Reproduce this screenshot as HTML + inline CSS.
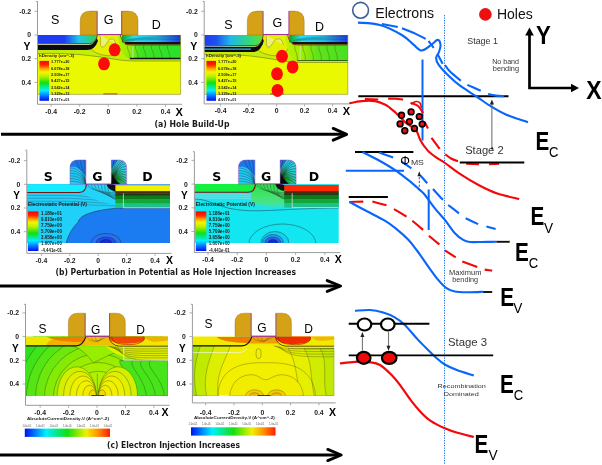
<!DOCTYPE html><html><head><meta charset="utf-8"><style>html,body{margin:0;padding:0;background:#fff;overflow:hidden;}svg{display:block;}</style></head><body>
<svg width="602" height="465" viewBox="0 0 602 465" font-family='"Liberation Sans", Arial, sans-serif'>
<defs>
<linearGradient id="cbv" x1="0" y1="0" x2="0" y2="1">
<stop offset="0" stop-color="#ff0000"/><stop offset="0.1" stop-color="#ff2400"/><stop offset="0.2" stop-color="#ffa800"/><stop offset="0.28" stop-color="#f4f400"/>
<stop offset="0.38" stop-color="#c0f000"/><stop offset="0.55" stop-color="#10e010"/><stop offset="0.74" stop-color="#00f0ff"/><stop offset="0.88" stop-color="#0070ff"/><stop offset="1" stop-color="#0010f0"/>
</linearGradient>
<linearGradient id="cbh" x1="0" y1="0" x2="1" y2="0">
<stop offset="0" stop-color="#0010f0"/><stop offset="0.25" stop-color="#00f0ff"/><stop offset="0.5" stop-color="#10e010"/>
<stop offset="0.72" stop-color="#f0f000"/><stop offset="0.86" stop-color="#ff9000"/><stop offset="1" stop-color="#ff1a00"/>
</linearGradient>
<linearGradient id="a1src" x1="0" y1="0" x2="1" y2="0">
<stop offset="0" stop-color="#1e3cf2"/><stop offset="0.45" stop-color="#1e3cf2"/><stop offset="0.7" stop-color="#20c8e8"/><stop offset="1" stop-color="#30d050"/>
</linearGradient>
<linearGradient id="a2src" x1="0" y1="0" x2="1" y2="0">
<stop offset="0" stop-color="#1e3cf2"/><stop offset="0.2" stop-color="#1e50f0"/><stop offset="0.45" stop-color="#20b8e8"/><stop offset="0.75" stop-color="#30d880"/><stop offset="1" stop-color="#60e030"/>
</linearGradient>
<linearGradient id="a1drn" x1="0" y1="0" x2="1" y2="0">
<stop offset="0" stop-color="#10a020"/><stop offset="0.2" stop-color="#20e0f0"/><stop offset="0.6" stop-color="#20c0f0"/><stop offset="1" stop-color="#1e3cf2"/>
</linearGradient>
</defs>
<rect x="37.5" y="35" width="143.1" height="59.400000000000006" fill="#eaf800"/>
<path d="M37.5,47 L180.6,47 L180.6,61 L133.9,61 C116.9,61 96.9,55 70.2,54 C55.2,53 47.5,53.5 37.5,53.5Z" fill="#c4ee08"/>
<path d="M180.6,61 L133.9,61 C116.9,61 96.9,55 70.2,54 C55.2,53 47.5,53.5 37.5,53.5" fill="none" stroke="#4a5020" stroke-width="0.45"/>
<path d="M94.9,35 L123.9,35 C123.9,45 119.9,51 115.9,55 C107.9,57 96.9,55 90.9,49Z" fill="#e4f000"/>
<path d="M123.9,35 C123.9,45 119.9,51 115.9,55 C107.9,57 96.9,55 90.9,49" fill="none" stroke="#4a5020" stroke-width="0.4"/>
<path d="M99.9,35 C101.9,41 98.9,45 101.9,47 C105.9,48 106.9,40 110.9,39 C115.9,38 113.9,43 116.9,45" fill="#f0f070" stroke="#4a5020" stroke-width="0.35"/>
<rect x="37.5" y="35" width="59.400000000000006" height="8" fill="url(#a1src)"/>
<rect x="37.5" y="43" width="53.400000000000006" height="1.6" fill="#b8b8f0"/>
<path d="M37.5,45 L88.9,45 Q93.9,44.5 96.9,38 L97.9,41 Q94.9,50 86.9,50 L37.5,50 Z" fill="#0a0a14"/>

<path d="M37.5,43.6 L89.9,43.6 Q95.9,43 97.4,35" fill="none" stroke="#8a1020" stroke-width="0.8"/>
<linearGradient id="dg1" x1="0" y1="0" x2="1" y2="0"><stop offset="0" stop-color="#b4f000"/><stop offset="0.18" stop-color="#90ee00"/><stop offset="0.35" stop-color="#40e420"/><stop offset="1" stop-color="#28e030"/></linearGradient>
<path d="M120.9,35 Q122.9,44 130.9,44 L180.6,44 L180.6,59 L128.9,59 C121.9,55 118.9,47 117.9,35Z" fill="url(#dg1)"/>
<rect x="121.9" y="35" width="58.69999999999999" height="7.5" fill="url(#a1drn)"/>
<rect x="124.9" y="42.0" width="55.69999999999999" height="2.4" fill="#101010"/>
<path d="M120.4,35 Q121.9,45 130.9,45 L180.6,45" fill="none" stroke="#9a1a20" stroke-width="0.8"/>
<path d="M129.9,58.5 L180.6,58.5" stroke="#111" stroke-width="1.4"/>
<path d="M127.9,45 C125.9,49 130.9,53 129.9,58" fill="none" stroke="#4a5020" stroke-width="0.4"/>
<path d="M135.9,45 C133.9,49 138.9,53 137.9,58" fill="none" stroke="#4a5020" stroke-width="0.4"/>
<path d="M143.9,45 C141.9,49 146.9,53 145.9,58" fill="none" stroke="#4a5020" stroke-width="0.4"/>
<path d="M151.9,45 C149.9,49 154.9,53 153.9,58" fill="none" stroke="#4a5020" stroke-width="0.4"/>
<path d="M159.9,45 C157.9,49 162.9,53 161.9,58" fill="none" stroke="#4a5020" stroke-width="0.4"/>
<path d="M167.9,45 C165.9,49 170.9,53 169.9,58" fill="none" stroke="#4a5020" stroke-width="0.4"/>
<path d="M132.9,46 L132.9,58" stroke="#e8e8e8" stroke-width="0.6"/>
<path d="M125.9,41 C131.9,37 160.6,37.0 180.6,36.0" fill="none" stroke="#223" stroke-width="0.3"/>
<path d="M128.9,41 C131.9,38 160.6,38.5 180.6,37.8" fill="none" stroke="#223" stroke-width="0.3"/>
<path d="M131.9,41 C131.9,39 160.6,40.0 180.6,39.6" fill="none" stroke="#223" stroke-width="0.3"/>
<path d="M96.9,34.5 L121.9,34.5" stroke="#a020a0" stroke-width="0.8"/>
<text x="39.0" y="56.8" font-size="4.4" font-weight="bold" text-anchor="start" fill="#222" textLength="35" lengthAdjust="spacingAndGlyphs">hDensity (cm^-3)</text>
<rect x="37.5" y="94.4" width="143.1" height="9.399999999999991" fill="#fff"/>
<path d="M37.5,94.4 L180.6,94.4 L180.6,35" fill="none" stroke="#8a9010" stroke-width="0.6"/>
<rect x="39.5" y="60.9" width="9.5" height="39.9" fill="url(#cbv)"/>
<path d="M103.4,93.9 L117.4,93.9" stroke="#b03070" stroke-width="0.9"/>
<text x="51.0" y="63.3" font-size="4.0" font-weight="bold" text-anchor="start" fill="#222" textLength="18.5" lengthAdjust="spacingAndGlyphs">1.777e+20</text>
<text x="51.0" y="69.6" font-size="4.0" font-weight="bold" text-anchor="start" fill="#222" textLength="18.5" lengthAdjust="spacingAndGlyphs">6.678e+18</text>
<text x="51.0" y="75.89999999999999" font-size="4.0" font-weight="bold" text-anchor="start" fill="#222" textLength="18.5" lengthAdjust="spacingAndGlyphs">2.509e+17</text>
<text x="51.0" y="82.19999999999999" font-size="4.0" font-weight="bold" text-anchor="start" fill="#222" textLength="18.5" lengthAdjust="spacingAndGlyphs">9.427e+15</text>
<text x="51.0" y="88.5" font-size="4.0" font-weight="bold" text-anchor="start" fill="#222" textLength="18.5" lengthAdjust="spacingAndGlyphs">3.542e+14</text>
<text x="51.0" y="94.8" font-size="4.0" font-weight="bold" text-anchor="start" fill="#222" textLength="18.5" lengthAdjust="spacingAndGlyphs">1.329e+13</text>
<text x="51.0" y="101.1" font-size="4.0" font-weight="bold" text-anchor="start" fill="#222" textLength="18.5" lengthAdjust="spacingAndGlyphs">4.917e+01</text>
<path d="M80.2,35 L80.2,21.1 Q80.2,11.1 90.2,11.1 L96.9,11.1 L96.9,35 Z" fill="#d5a116" stroke="#8a6a10" stroke-width="0.4"/>
<path d="M121.9,35 L121.9,11.1 L128,11.1 Q138,11.1 138,21.1 L138,35 Z" fill="#d5a116" stroke="#8a6a10" stroke-width="0.4"/>
<path d="M97.2,11.1 L97.2,34.6 L121.60000000000001,34.6 L121.60000000000001,11.1" fill="none" stroke="#9a2a8a" stroke-width="0.8"/>
<text x="51" y="24.2" font-size="12.5" font-weight="normal" text-anchor="start" fill="#000" >S</text>
<text x="103.8" y="24" font-size="12.5" font-weight="normal" text-anchor="start" fill="#000" >G</text>
<text x="151.8" y="29" font-size="12.5" font-weight="normal" text-anchor="start" fill="#000" >D</text>
<ellipse cx="114.6" cy="49.8" rx="5.9" ry="6.5" fill="#ff0a0a"/>
<ellipse cx="104" cy="63.8" rx="5.9" ry="6.5" fill="#ff0a0a"/>
<path d="M37.5,1.5 L37.5,104.3 L182.1,104.3" fill="none" stroke="#9a9a9a" stroke-width="1"/>
<path d="M36.0,1.5 L37.5,1.5" stroke="#9a9a9a" stroke-width="1"/>
<path d="M34.5,11.299999999999997 L37.5,11.299999999999997" stroke="#9a9a9a" stroke-width="0.8"/>
<text x="31.0" y="13.699999999999998" font-size="6.8" font-weight="bold" text-anchor="end" fill="#222" >-0.2</text>
<path d="M34.5,35.0 L37.5,35.0" stroke="#9a9a9a" stroke-width="0.8"/>
<text x="31.0" y="37.4" font-size="6.8" font-weight="bold" text-anchor="end" fill="#222" >0</text>
<path d="M34.5,58.7 L37.5,58.7" stroke="#9a9a9a" stroke-width="0.8"/>
<text x="31.0" y="61.1" font-size="6.8" font-weight="bold" text-anchor="end" fill="#222" >0.2</text>
<path d="M34.5,82.4 L37.5,82.4" stroke="#9a9a9a" stroke-width="0.8"/>
<text x="31.0" y="84.80000000000001" font-size="6.8" font-weight="bold" text-anchor="end" fill="#222" >0.4</text>
<path d="M51.099999999999994,104.3 L51.099999999999994,106.8" stroke="#9a9a9a" stroke-width="0.8"/>
<text x="51.099999999999994" y="113.8" font-size="6.8" font-weight="bold" text-anchor="middle" fill="#222" >-0.4</text>
<path d="M79.69999999999999,104.3 L79.69999999999999,106.8" stroke="#9a9a9a" stroke-width="0.8"/>
<text x="79.69999999999999" y="113.8" font-size="6.8" font-weight="bold" text-anchor="middle" fill="#222" >-0.2</text>
<path d="M108.3,104.3 L108.3,106.8" stroke="#9a9a9a" stroke-width="0.8"/>
<text x="108.3" y="113.8" font-size="6.8" font-weight="bold" text-anchor="middle" fill="#222" >0</text>
<path d="M136.9,104.3 L136.9,106.8" stroke="#9a9a9a" stroke-width="0.8"/>
<text x="136.9" y="113.8" font-size="6.8" font-weight="bold" text-anchor="middle" fill="#222" >0.2</text>
<path d="M165.5,104.3 L165.5,106.8" stroke="#9a9a9a" stroke-width="0.8"/>
<text x="165.5" y="113.8" font-size="6.8" font-weight="bold" text-anchor="middle" fill="#222" >0.4</text>
<text x="175.6" y="115.6" font-size="11" font-weight="bold" text-anchor="start" fill="#000" >X</text>
<text x="23.5" y="50" font-size="10.5" font-weight="bold" text-anchor="start" fill="#000" >Y</text>
<rect x="204.5" y="35" width="143.3" height="59.400000000000006" fill="#eaf800"/>
<path d="M204.5,47 L347.8,47 L347.8,62.5 L301.2,62.5 C284.2,62.5 262.8,56 237.3,55 C222.3,54 214.5,54.5 204.5,54.5Z" fill="#c4ee08"/>
<path d="M347.8,62.5 L301.2,62.5 C284.2,62.5 262.8,56 237.3,55 C222.3,54 214.5,54.5 204.5,54.5" fill="none" stroke="#4a5020" stroke-width="0.45"/>
<path d="M260.8,35 L291.2,35 C291.2,45 287.2,51 283.2,55 C275.2,57 262.8,55 256.8,49Z" fill="#e4f000"/>
<path d="M291.2,35 C291.2,45 287.2,51 283.2,55 C275.2,57 262.8,55 256.8,49" fill="none" stroke="#4a5020" stroke-width="0.4"/>
<path d="M265.8,35 C267.8,41 264.8,45 267.8,47 C271.8,48 272.8,40 276.8,39 C283.2,38 281.2,43 284.2,45" fill="#f0f070" stroke="#4a5020" stroke-width="0.35"/>
<rect x="204.5" y="35" width="58.30000000000001" height="10" fill="url(#a2src)"/>
<rect x="204.5" y="45" width="52.30000000000001" height="1.6" fill="#b8b8f0"/>
<rect x="204.5" y="46.6" width="51.30000000000001" height="2.6" fill="url(#a2src)"/>
<path d="M204.5,47 L254.8,47 Q259.8,46.5 262.8,38 L263.8,41 Q260.8,52 252.8,52 L204.5,52 Z" fill="#0a0a14"/>
<path d="M204.5,49.2 L250.8,49.2" stroke="#28c0e8" stroke-width="1.2"/>
<path d="M204.5,45.6 L255.8,45.6 Q261.8,45 263.3,35" fill="none" stroke="#8a1020" stroke-width="0.8"/>
<linearGradient id="dg2" x1="0" y1="0" x2="1" y2="0"><stop offset="0" stop-color="#c0f000"/><stop offset="0.3" stop-color="#98ee00"/><stop offset="0.5" stop-color="#60e418"/><stop offset="1" stop-color="#48e020"/></linearGradient>
<path d="M288.2,35 Q290.2,44 298.2,44 L347.8,44 L347.8,61 L296.2,61 C289.2,57 286.2,47 285.2,35Z" fill="url(#dg2)"/>
<rect x="289.2" y="35" width="58.60000000000002" height="7.5" fill="url(#a1drn)"/>
<rect x="292.2" y="42.0" width="55.60000000000002" height="2.4" fill="#101010"/>
<path d="M287.7,35 Q289.2,45 298.2,45 L347.8,45" fill="none" stroke="#9a1a20" stroke-width="0.8"/>
<path d="M297.2,60.5 L347.8,60.5" stroke="#111" stroke-width="0.6"/>
<path d="M295.2,45 C293.2,49 298.2,53 297.2,60" fill="none" stroke="#4a5020" stroke-width="0.4"/>
<path d="M303.2,45 C301.2,49 306.2,53 305.2,60" fill="none" stroke="#4a5020" stroke-width="0.4"/>
<path d="M311.2,45 C309.2,49 314.2,53 313.2,60" fill="none" stroke="#4a5020" stroke-width="0.4"/>
<path d="M319.2,45 C317.2,49 322.2,53 321.2,60" fill="none" stroke="#4a5020" stroke-width="0.4"/>
<path d="M327.2,45 C325.2,49 330.2,53 329.2,60" fill="none" stroke="#4a5020" stroke-width="0.4"/>
<path d="M335.2,45 C333.2,49 338.2,53 337.2,60" fill="none" stroke="#4a5020" stroke-width="0.4"/>
<path d="M300.2,46 L300.2,60" stroke="#e8e8e8" stroke-width="0.6"/>
<path d="M293.2,41 C299.2,37 327.8,37.0 347.8,36.0" fill="none" stroke="#223" stroke-width="0.3"/>
<path d="M296.2,41 C299.2,38 327.8,38.5 347.8,37.8" fill="none" stroke="#223" stroke-width="0.3"/>
<path d="M299.2,41 C299.2,39 327.8,40.0 347.8,39.6" fill="none" stroke="#223" stroke-width="0.3"/>
<path d="M262.8,34.5 L289.2,34.5" stroke="#a020a0" stroke-width="0.8"/>
<text x="206.0" y="56.8" font-size="4.4" font-weight="bold" text-anchor="start" fill="#222" textLength="35" lengthAdjust="spacingAndGlyphs">hDensity (cm^-3)</text>
<rect x="204.5" y="94.4" width="143.3" height="9.0" fill="#fff"/>
<path d="M204.5,94.4 L347.8,94.4 L347.8,35" fill="none" stroke="#8a9010" stroke-width="0.6"/>
<rect x="206.5" y="60.9" width="9.5" height="39.9" fill="url(#cbv)"/>
<path d="M270.0,93.9 L284.0,93.9" stroke="#b03070" stroke-width="0.9"/>
<text x="218.0" y="63.3" font-size="4.0" font-weight="bold" text-anchor="start" fill="#222" textLength="18.5" lengthAdjust="spacingAndGlyphs">1.777e+20</text>
<text x="218.0" y="69.6" font-size="4.0" font-weight="bold" text-anchor="start" fill="#222" textLength="18.5" lengthAdjust="spacingAndGlyphs">6.678e+18</text>
<text x="218.0" y="75.89999999999999" font-size="4.0" font-weight="bold" text-anchor="start" fill="#222" textLength="18.5" lengthAdjust="spacingAndGlyphs">2.509e+17</text>
<text x="218.0" y="82.19999999999999" font-size="4.0" font-weight="bold" text-anchor="start" fill="#222" textLength="18.5" lengthAdjust="spacingAndGlyphs">9.427e+15</text>
<text x="218.0" y="88.5" font-size="4.0" font-weight="bold" text-anchor="start" fill="#222" textLength="18.5" lengthAdjust="spacingAndGlyphs">3.542e+14</text>
<text x="218.0" y="94.8" font-size="4.0" font-weight="bold" text-anchor="start" fill="#222" textLength="18.5" lengthAdjust="spacingAndGlyphs">1.329e+13</text>
<text x="218.0" y="101.1" font-size="4.0" font-weight="bold" text-anchor="start" fill="#222" textLength="18.5" lengthAdjust="spacingAndGlyphs">4.917e+01</text>
<path d="M247.3,35 L247.3,21.1 Q247.3,11.1 257.3,11.1 L262.8,11.1 L262.8,35 Z" fill="#d5a116" stroke="#8a6a10" stroke-width="0.4"/>
<path d="M289.2,35 L289.2,11.1 L294.2,11.1 Q304.2,11.1 304.2,21.1 L304.2,35 Z" fill="#d5a116" stroke="#8a6a10" stroke-width="0.4"/>
<path d="M263.1,11.1 L263.1,34.6 L288.9,34.6 L288.9,11.1" fill="none" stroke="#9a2a8a" stroke-width="0.8"/>
<text x="224.3" y="29.2" font-size="12.5" font-weight="normal" text-anchor="start" fill="#000" >S</text>
<text x="272.4" y="26.7" font-size="12.5" font-weight="normal" text-anchor="start" fill="#000" >G</text>
<text x="314.9" y="31.1" font-size="12.5" font-weight="normal" text-anchor="start" fill="#000" >D</text>
<ellipse cx="282" cy="56.3" rx="5.9" ry="6.5" fill="#ff0a0a"/>
<ellipse cx="292.6" cy="66.9" rx="5.9" ry="6.5" fill="#ff0a0a"/>
<ellipse cx="277" cy="73.8" rx="5.9" ry="6.5" fill="#ff0a0a"/>
<ellipse cx="277.5" cy="90.4" rx="5.9" ry="6.5" fill="#ff0a0a"/>
<path d="M204.2,1.5 L204.2,103.9 L349.3,103.9" fill="none" stroke="#9a9a9a" stroke-width="1"/>
<path d="M202.7,1.5 L204.2,1.5" stroke="#9a9a9a" stroke-width="1"/>
<path d="M201.2,11.299999999999997 L204.2,11.299999999999997" stroke="#9a9a9a" stroke-width="0.8"/>
<text x="197.7" y="13.699999999999998" font-size="6.8" font-weight="bold" text-anchor="end" fill="#222" >-0.2</text>
<path d="M201.2,35.0 L204.2,35.0" stroke="#9a9a9a" stroke-width="0.8"/>
<text x="197.7" y="37.4" font-size="6.8" font-weight="bold" text-anchor="end" fill="#222" >0</text>
<path d="M201.2,58.7 L204.2,58.7" stroke="#9a9a9a" stroke-width="0.8"/>
<text x="197.7" y="61.1" font-size="6.8" font-weight="bold" text-anchor="end" fill="#222" >0.2</text>
<path d="M201.2,82.4 L204.2,82.4" stroke="#9a9a9a" stroke-width="0.8"/>
<text x="197.7" y="84.80000000000001" font-size="6.8" font-weight="bold" text-anchor="end" fill="#222" >0.4</text>
<path d="M220.60000000000002,103.9 L220.60000000000002,106.4" stroke="#9a9a9a" stroke-width="0.8"/>
<text x="220.60000000000002" y="113.4" font-size="6.8" font-weight="bold" text-anchor="middle" fill="#222" >-0.4</text>
<path d="M248.60000000000002,103.9 L248.60000000000002,106.4" stroke="#9a9a9a" stroke-width="0.8"/>
<text x="248.60000000000002" y="113.4" font-size="6.8" font-weight="bold" text-anchor="middle" fill="#222" >-0.2</text>
<path d="M276.6,103.9 L276.6,106.4" stroke="#9a9a9a" stroke-width="0.8"/>
<text x="276.6" y="113.4" font-size="6.8" font-weight="bold" text-anchor="middle" fill="#222" >0</text>
<path d="M304.6,103.9 L304.6,106.4" stroke="#9a9a9a" stroke-width="0.8"/>
<text x="304.6" y="113.4" font-size="6.8" font-weight="bold" text-anchor="middle" fill="#222" >0.2</text>
<path d="M332.6,103.9 L332.6,106.4" stroke="#9a9a9a" stroke-width="0.8"/>
<text x="332.6" y="113.4" font-size="6.8" font-weight="bold" text-anchor="middle" fill="#222" >0.4</text>
<text x="342.8" y="115.2" font-size="11" font-weight="bold" text-anchor="start" fill="#000" >X</text>
<text x="190.2" y="50" font-size="10.5" font-weight="bold" text-anchor="start" fill="#000" >Y</text>
<text x="154.5" y="126.9" font-size="8.6" font-weight="bold" text-anchor="start" fill="#1a1a1a" font-family="DejaVu Sans, sans-serif" textLength="75" lengthAdjust="spacingAndGlyphs">(a) Hole Build-Up</text>
<rect x="27" y="184.3" width="143" height="58.69999999999999" fill="#1a7cf0"/>
<path d="M27,192.3 L170,192.3 L170,208.10000000000002 L119.4,208.10000000000002 C106.4,208.8 79.9,212.3 78,222.3 C70,230.3 68,237.3 66,243 L27,243Z" fill="#20d0f8"/>
<path d="M170,208.10000000000002 L119.4,208.10000000000002 C106.4,208.8 79.9,212.3 78,222.3 C70,230.3 68,237.3 66,243" fill="none" stroke="#223" stroke-width="0.45"/>
<path d="M27,195.3 L65,195.3 C85.9,195.3 106.4,200.3 170,202.3" fill="none" stroke="#335" stroke-width="0.3"/>
<path d="M27,198.3 L65,198.3 C85.9,198.3 106.4,202.3 170,203.8" fill="none" stroke="#335" stroke-width="0.3"/>
<path d="M27,201.3 L65,201.3 C85.9,201.3 106.4,204.3 170,205.3" fill="none" stroke="#335" stroke-width="0.3"/>
<path d="M27,204.3 L65,204.3 C85.9,204.3 106.4,206.3 170,206.8" fill="none" stroke="#335" stroke-width="0.3"/>
<path d="M85.9,184.3 L111.4,184.3 C113.4,196.3 119.4,202.3 123.4,206.3 C105.4,204.3 89.9,198.3 82.9,193.3 Z" fill="#22d4f8"/>
<path d="M87.9,184.3 C88.9,192.3 111.4,194.3 170,194.3" fill="none" stroke="#222" stroke-width="0.35"/>
<path d="M91.30000000000001,184.3 C91.9,193.5 111.4,195.9 170,196.3" fill="none" stroke="#222" stroke-width="0.35"/>
<path d="M94.7,184.3 C94.9,194.70000000000002 111.4,197.5 170,198.3" fill="none" stroke="#222" stroke-width="0.35"/>
<path d="M98.10000000000001,184.3 C97.9,195.9 111.4,199.10000000000002 170,200.3" fill="none" stroke="#222" stroke-width="0.35"/>
<path d="M101.5,184.3 C100.9,197.10000000000002 111.4,200.70000000000002 170,202.3" fill="none" stroke="#222" stroke-width="0.35"/>
<path d="M104.9,184.3 C103.9,198.3 111.4,202.3 170,204.3" fill="none" stroke="#222" stroke-width="0.35"/>
<path d="M108.30000000000001,184.3 C106.9,199.5 111.4,203.9 170,206.3" fill="none" stroke="#222" stroke-width="0.35"/>
<path d="M27,184.3 L85.9,184.3 Q85.9,192.3 78.9,192.5 L27,192.5Z" fill="#10eeff"/>
<path d="M27,192.5 L78.9,192.5 Q85.9,192.3 86.4,184.3" fill="none" stroke="#7a1010" stroke-width="1.1"/>
<path d="M113.4,185.3 L170,185.3 L170,191.3 L118.4,191.3 Q113.4,191.3 113.4,185.3Z" fill="#f2f000"/>
<rect x="115.4" y="191.3" width="54.599999999999994" height="2" fill="#4a2a10"/>
<rect x="115.4" y="193.3" width="54.599999999999994" height="2.5" fill="#1a3a10"/>
<rect x="115.4" y="195.8" width="54.599999999999994" height="3.5" fill="#0e7a1c"/>
<rect x="115.4" y="199.3" width="54.599999999999994" height="4" fill="#10a838"/>
<rect x="115.4" y="203.3" width="54.599999999999994" height="4.5" fill="#20c088"/>
<path d="M123.4,193.3 L123.4,207.8 L170,207.8" fill="none" stroke="#e8e8e8" stroke-width="0.7"/>
<path d="M106.4,184.3 Q108.4,190.3 115.4,191.3 L115.4,185.3 L112.4,184.3Z" fill="#111"/>
<clipPath id="cpb1"><rect x="27" y="184.3" width="143" height="58.69999999999999"/></clipPath><g clip-path="url(#cpb1)">
<ellipse cx="106" cy="243" rx="15" ry="9.5" fill="#2a70f0" stroke="#222" stroke-width="0.4"/>
<ellipse cx="106" cy="243" rx="10" ry="6" fill="#1e50e8" stroke="#222" stroke-width="0.4"/>
<ellipse cx="106" cy="243" rx="6" ry="3.5" fill="#1030d0" stroke="#222" stroke-width="0.4"/>
</g>
<rect x="27" y="243" width="143" height="9.900000000000006" fill="#fff"/>
<path d="M85.9,184.0 L111.4,184.0" stroke="#a020a0" stroke-width="0.8"/>
<text x="28" y="206.2" font-size="4.6" font-weight="bold" text-anchor="start" fill="#1a1a1a" textLength="59" lengthAdjust="spacingAndGlyphs">Electrostatic Potential (V)</text>
<rect x="28" y="211.4" width="10.5" height="39.6" fill="url(#cbv)"/>
<text x="41" y="214.6" font-size="4.6" font-weight="bold" text-anchor="start" fill="#1a1a1a" textLength="21" lengthAdjust="spacingAndGlyphs">1.186e+01</text>
<text x="41" y="220.75" font-size="4.6" font-weight="bold" text-anchor="start" fill="#1a1a1a" textLength="21" lengthAdjust="spacingAndGlyphs">9.810e+00</text>
<text x="41" y="226.9" font-size="4.6" font-weight="bold" text-anchor="start" fill="#1a1a1a" textLength="21" lengthAdjust="spacingAndGlyphs">7.759e+00</text>
<text x="41" y="233.05" font-size="4.6" font-weight="bold" text-anchor="start" fill="#1a1a1a" textLength="21" lengthAdjust="spacingAndGlyphs">5.709e+00</text>
<text x="41" y="239.2" font-size="4.6" font-weight="bold" text-anchor="start" fill="#1a1a1a" textLength="21" lengthAdjust="spacingAndGlyphs">3.658e+00</text>
<text x="41" y="245.35" font-size="4.6" font-weight="bold" text-anchor="start" fill="#1a1a1a" textLength="21" lengthAdjust="spacingAndGlyphs">1.607e+00</text>
<text x="41" y="251.5" font-size="4.6" font-weight="bold" text-anchor="start" fill="#1a1a1a" textLength="21" lengthAdjust="spacingAndGlyphs">-4.441e-01</text>
<clipPath id="clip70"><path d="M70,184.3 L70,168 Q70,160 78,160 L85.9,160 L85.9,184.3 Z"/></clipPath>
<g clip-path="url(#clip70)">
<rect x="70" y="160" width="15.900000000000006" height="24.30000000000001" fill="#22ccf5"/>
<path d="M70,160 L85.9,160 L85.9,176.3 C79.9,168 76,166 70,167Z" fill="#1a78ea"/>
<path d="M70,168.0 C76,168.0 81.9,170.0 85.9,184.3" fill="none" stroke="#223" stroke-width="0.35"/>
<path d="M70,170.6 C76,170.6 81.9,172.6 85.9,184.3" fill="none" stroke="#223" stroke-width="0.35"/>
<path d="M70,173.2 C76,173.2 81.9,175.2 85.9,184.3" fill="none" stroke="#223" stroke-width="0.35"/>
<path d="M70,175.8 C76,175.8 81.9,177.8 85.9,184.3" fill="none" stroke="#223" stroke-width="0.35"/>
<path d="M70,178.4 C76,178.4 81.9,180.4 85.9,184.3" fill="none" stroke="#223" stroke-width="0.35"/>
<path d="M70,181.0 C76,181.0 81.9,183.0 85.9,184.3" fill="none" stroke="#223" stroke-width="0.35"/>
<path d="M76,160 C78,168 83.9,172 85.9,184.3" fill="none" stroke="#223" stroke-width="0.35"/>
<path d="M80,160 C82,168 83.9,172 85.9,184.3" fill="none" stroke="#223" stroke-width="0.35"/>
<path d="M84,160 C86,168 83.9,172 85.9,184.3" fill="none" stroke="#223" stroke-width="0.35"/>
</g>
<path d="M70,184.3 L70,168 Q70,160 78,160 L85.9,160 L85.9,184.3 Z" fill="none" stroke="#a040c0" stroke-width="0.5"/>
<clipPath id="clip111"><path d="M111.4,184.3 L111.4,160 L118.7,160 Q126.7,160 126.7,168 L126.7,184.3 Z"/></clipPath>
<g clip-path="url(#clip111)">
<radialGradient id="rg111" cx="111.4" cy="184.3" r="25.515000000000015" gradientUnits="userSpaceOnUse"><stop offset="0" stop-color="#000"/><stop offset="0.12" stop-color="#0a2a0a"/><stop offset="0.3" stop-color="#18a028"/><stop offset="0.55" stop-color="#28c8a0"/><stop offset="0.8" stop-color="#30d4f0"/><stop offset="1" stop-color="#30d4f2"/></radialGradient>
<rect x="111.4" y="160" width="15.299999999999997" height="24.30000000000001" fill="url(#rg111)"/>
<path d="M111.4,160 L117.4,160 L111.4,169Z" fill="#1a70e8"/>
<path d="M111.4,184.3 Q111.4,164.0 111.4,160" fill="none" stroke="#111" stroke-width="0.4"/>
<path d="M111.4,184.3 Q112.31384615384616,164.0 114.44615384615385,160" fill="none" stroke="#111" stroke-width="0.4"/>
<path d="M111.4,184.3 Q113.22769230769231,164.0 117.4923076923077,160" fill="none" stroke="#111" stroke-width="0.4"/>
<path d="M111.4,184.3 Q114.14153846153847,164.0 120.53846153846155,160" fill="none" stroke="#111" stroke-width="0.4"/>
<path d="M111.4,184.3 Q115.05538461538463,164.0 123.58461538461539,160" fill="none" stroke="#111" stroke-width="0.4"/>
<path d="M111.4,184.3 Q115.96923076923078,164.0 126.63076923076925,160" fill="none" stroke="#111" stroke-width="0.4"/>
<path d="M111.4,184.3 Q115.99000000000001,165.19076923076923 126.7,162.97692307692307" fill="none" stroke="#111" stroke-width="0.4"/>
<path d="M111.4,184.3 Q115.99000000000001,166.40923076923076 126.7,166.02307692307693" fill="none" stroke="#111" stroke-width="0.4"/>
<path d="M111.4,184.3 Q115.99000000000001,167.6276923076923 126.7,169.06923076923078" fill="none" stroke="#111" stroke-width="0.4"/>
<path d="M111.4,184.3 Q115.99000000000001,168.84615384615384 126.7,172.1153846153846" fill="none" stroke="#111" stroke-width="0.4"/>
<path d="M111.4,184.3 Q115.99000000000001,170.0646153846154 126.7,175.16153846153847" fill="none" stroke="#111" stroke-width="0.4"/>
<path d="M111.4,184.3 Q115.99000000000001,171.28307692307692 126.7,178.20769230769233" fill="none" stroke="#111" stroke-width="0.4"/>
<path d="M111.4,184.3 Q115.99000000000001,172.50153846153847 126.7,181.25384615384615" fill="none" stroke="#111" stroke-width="0.4"/>
<path d="M111.4,184.3 Q115.99000000000001,173.72 126.7,184.3" fill="none" stroke="#111" stroke-width="0.4"/>
<path d="M111.4,184.3 L120.4,184.3 Q114.4,180.3 111.4,172.3Z" fill="#0a0a0a"/>
</g>
<path d="M111.4,184.3 L111.4,160 L118.7,160 Q126.7,160 126.7,168 L126.7,184.3 Z" fill="none" stroke="#a040c0" stroke-width="0.5"/>
<text x="43.7" y="180.9" font-size="12.5" font-weight="bold" text-anchor="start" fill="#000" font-family="DejaVu Sans, sans-serif">S</text>
<text x="92.3" y="180.5" font-size="12.5" font-weight="bold" text-anchor="start" fill="#000" font-family="DejaVu Sans, sans-serif">G</text>
<text x="142.3" y="180.5" font-size="12.5" font-weight="bold" text-anchor="start" fill="#000" font-family="DejaVu Sans, sans-serif">D</text>
<path d="M26.8,150.2 L26.8,253.4 L171.5,253.4" fill="none" stroke="#9a9a9a" stroke-width="1"/>
<path d="M25.3,150.2 L26.8,150.2" stroke="#9a9a9a" stroke-width="1"/>
<path d="M23.8,160.60000000000002 L26.8,160.60000000000002" stroke="#9a9a9a" stroke-width="0.8"/>
<text x="20.3" y="163.00000000000003" font-size="6.8" font-weight="bold" text-anchor="end" fill="#222" >-0.2</text>
<path d="M23.8,184.3 L26.8,184.3" stroke="#9a9a9a" stroke-width="0.8"/>
<text x="20.3" y="186.70000000000002" font-size="6.8" font-weight="bold" text-anchor="end" fill="#222" >0</text>
<path d="M23.8,208.0 L26.8,208.0" stroke="#9a9a9a" stroke-width="0.8"/>
<text x="20.3" y="210.4" font-size="6.8" font-weight="bold" text-anchor="end" fill="#222" >0.2</text>
<path d="M23.8,231.70000000000002 L26.8,231.70000000000002" stroke="#9a9a9a" stroke-width="0.8"/>
<text x="20.3" y="234.10000000000002" font-size="6.8" font-weight="bold" text-anchor="end" fill="#222" >0.4</text>
<path d="M41.4,253.4 L41.4,255.9" stroke="#9a9a9a" stroke-width="0.8"/>
<text x="41.4" y="262.9" font-size="6.8" font-weight="bold" text-anchor="middle" fill="#222" >-0.4</text>
<path d="M69.8,253.4 L69.8,255.9" stroke="#9a9a9a" stroke-width="0.8"/>
<text x="69.8" y="262.9" font-size="6.8" font-weight="bold" text-anchor="middle" fill="#222" >-0.2</text>
<path d="M98.2,253.4 L98.2,255.9" stroke="#9a9a9a" stroke-width="0.8"/>
<text x="98.2" y="262.9" font-size="6.8" font-weight="bold" text-anchor="middle" fill="#222" >0</text>
<path d="M126.60000000000001,253.4 L126.60000000000001,255.9" stroke="#9a9a9a" stroke-width="0.8"/>
<text x="126.60000000000001" y="262.9" font-size="6.8" font-weight="bold" text-anchor="middle" fill="#222" >0.2</text>
<path d="M155.0,253.4 L155.0,255.9" stroke="#9a9a9a" stroke-width="0.8"/>
<text x="155.0" y="262.9" font-size="6.8" font-weight="bold" text-anchor="middle" fill="#222" >0.4</text>
<text x="166" y="263.9" font-size="10.5" font-weight="bold" text-anchor="start" fill="#000" >X</text>
<text x="13.3" y="199" font-size="10" font-weight="bold" text-anchor="start" fill="#000" >Y</text>
<rect x="194.8" y="184.1" width="143.89999999999998" height="58.900000000000006" fill="#12e6f0"/>
<path d="M194.8,192.1 L338.7,192.1 L338.7,208.1 C280.2,208.1 254.9,214.1 228.4,208.1 C208.4,202.1 204.8,199.1 194.8,199.1Z" fill="#18e6ec"/>
<path d="M338.7,208.1 C280.2,208.1 254.9,214.1 228.4,208.1 C208.4,202.1 204.8,199.1 194.8,199.1" fill="none" stroke="#223" stroke-width="0.45"/>
<path d="M194.8,194.1 L238.4,194.1 C254.9,194.1 275.2,200.1 338.7,202.1" fill="none" stroke="#ddd" stroke-width="0.45"/>
<path d="M194.8,196.1 L238.4,196.1 C254.9,196.1 275.2,202.1 338.7,203.6" fill="none" stroke="#ddd" stroke-width="0.45"/>
<path d="M194.8,198.1 L238.4,198.1 C254.9,198.1 275.2,204.1 338.7,205.1" fill="none" stroke="#ddd" stroke-width="0.45"/>
<linearGradient id="fanb2" x1="0" y1="0" x2="0" y2="1"><stop offset="0" stop-color="#28e048"/><stop offset="0.6" stop-color="#48e470"/><stop offset="1" stop-color="#40e0b0"/></linearGradient>
<path d="M253.9,184.1 L281.2,184.1 C284.2,192.1 294.2,198.1 294.2,203.1 C292.2,208.1 256.9,208.1 252.9,202.1 C248.9,198.1 251.9,192.1 253.9,184.1 Z" fill="url(#fanb2)"/>
<path d="M256.9,184.1 C257.9,192.1 280.2,194.1 338.7,194.1" fill="none" stroke="#222" stroke-width="0.35"/>
<path d="M260.29999999999995,184.1 C260.9,193.29999999999998 280.2,195.7 338.7,196.1" fill="none" stroke="#222" stroke-width="0.35"/>
<path d="M263.7,184.1 C263.9,194.5 280.2,197.29999999999998 338.7,198.1" fill="none" stroke="#222" stroke-width="0.35"/>
<path d="M267.09999999999997,184.1 C266.9,195.7 280.2,198.9 338.7,200.1" fill="none" stroke="#222" stroke-width="0.35"/>
<path d="M270.5,184.1 C269.9,196.9 280.2,200.5 338.7,202.1" fill="none" stroke="#222" stroke-width="0.35"/>
<path d="M273.9,184.1 C272.9,198.1 280.2,202.1 338.7,204.1" fill="none" stroke="#222" stroke-width="0.35"/>
<path d="M277.29999999999995,184.1 C275.9,199.29999999999998 280.2,203.7 338.7,206.1" fill="none" stroke="#222" stroke-width="0.35"/>
<path d="M194.8,184.1 L254.9,184.1 Q254.9,192.1 247.9,192.29999999999998 L194.8,192.29999999999998Z" fill="#14f040"/>
<path d="M194.8,192.29999999999998 L247.9,192.29999999999998 Q254.9,192.1 255.4,184.1" fill="none" stroke="#7a1010" stroke-width="1.1"/>
<path d="M282.2,185.1 L338.7,185.1 L338.7,191.1 L287.2,191.1 Q282.2,191.1 282.2,185.1Z" fill="#ff2a00"/>
<rect x="284.2" y="191.1" width="54.5" height="2" fill="#4a2a10"/>
<rect x="284.2" y="193.1" width="54.5" height="2.5" fill="#1a3a10"/>
<rect x="284.2" y="195.6" width="54.5" height="3.5" fill="#0e7a1c"/>
<rect x="284.2" y="199.1" width="54.5" height="4" fill="#10a838"/>
<rect x="284.2" y="203.1" width="54.5" height="4.5" fill="#20c088"/>
<path d="M292.2,193.1 L292.2,207.6 L338.7,207.6" fill="none" stroke="#e8e8e8" stroke-width="0.7"/>
<path d="M275.2,184.1 Q277.2,190.1 284.2,191.1 L284.2,185.1 L281.2,184.1Z" fill="#111"/>
<clipPath id="cpb2"><rect x="194.8" y="184.1" width="143.89999999999998" height="58.900000000000006"/></clipPath><g clip-path="url(#cpb2)">
<ellipse cx="282.4" cy="244" rx="33.5" ry="20" fill="none" stroke="#222" stroke-width="0.4"/>
<ellipse cx="274.9" cy="243" rx="14" ry="11.5" fill="#14d0f0" stroke="#222" stroke-width="0.4"/>
<ellipse cx="272.9" cy="243" rx="10.5" ry="8.5" fill="#1ea0f0" stroke="#222" stroke-width="0.4"/>
<ellipse cx="272.9" cy="243" rx="8" ry="6" fill="#2a64f0" stroke="#222" stroke-width="0.4"/>
<ellipse cx="272.9" cy="243" rx="5" ry="3.5" fill="#1030d0" stroke="#222" stroke-width="0.4"/>
</g>
<rect x="194.8" y="243" width="143.89999999999998" height="9.099999999999994" fill="#fff"/>
<path d="M254.9,183.79999999999998 L280.2,183.79999999999998" stroke="#a020a0" stroke-width="0.8"/>
<text x="195.8" y="206.2" font-size="4.6" font-weight="bold" text-anchor="start" fill="#1a1a1a" textLength="59" lengthAdjust="spacingAndGlyphs">Electrostatic Potential (V)</text>
<rect x="195.8" y="211.4" width="10.5" height="39.6" fill="url(#cbv)"/>
<text x="208.8" y="214.6" font-size="4.6" font-weight="bold" text-anchor="start" fill="#1a1a1a" textLength="21" lengthAdjust="spacingAndGlyphs">1.186e+01</text>
<text x="208.8" y="220.75" font-size="4.6" font-weight="bold" text-anchor="start" fill="#1a1a1a" textLength="21" lengthAdjust="spacingAndGlyphs">9.810e+00</text>
<text x="208.8" y="226.9" font-size="4.6" font-weight="bold" text-anchor="start" fill="#1a1a1a" textLength="21" lengthAdjust="spacingAndGlyphs">7.759e+00</text>
<text x="208.8" y="233.05" font-size="4.6" font-weight="bold" text-anchor="start" fill="#1a1a1a" textLength="21" lengthAdjust="spacingAndGlyphs">5.709e+00</text>
<text x="208.8" y="239.2" font-size="4.6" font-weight="bold" text-anchor="start" fill="#1a1a1a" textLength="21" lengthAdjust="spacingAndGlyphs">3.658e+00</text>
<text x="208.8" y="245.35" font-size="4.6" font-weight="bold" text-anchor="start" fill="#1a1a1a" textLength="21" lengthAdjust="spacingAndGlyphs">1.607e+00</text>
<text x="208.8" y="251.5" font-size="4.6" font-weight="bold" text-anchor="start" fill="#1a1a1a" textLength="21" lengthAdjust="spacingAndGlyphs">-4.441e-01</text>
<clipPath id="clip238"><path d="M238.4,184.1 L238.4,168 Q238.4,160 246.4,160 L254.9,160 L254.9,184.1 Z"/></clipPath>
<g clip-path="url(#clip238)">
<rect x="238.4" y="160" width="16.5" height="24.099999999999994" fill="#22ccf5"/>
<path d="M238.4,160 L254.9,160 L254.9,176.1 C248.9,168 244.4,166 238.4,167Z" fill="#1a78ea"/>
<path d="M238.4,168.0 C244.4,168.0 250.9,170.0 254.9,184.1" fill="none" stroke="#223" stroke-width="0.35"/>
<path d="M238.4,170.6 C244.4,170.6 250.9,172.6 254.9,184.1" fill="none" stroke="#223" stroke-width="0.35"/>
<path d="M238.4,173.2 C244.4,173.2 250.9,175.2 254.9,184.1" fill="none" stroke="#223" stroke-width="0.35"/>
<path d="M238.4,175.8 C244.4,175.8 250.9,177.8 254.9,184.1" fill="none" stroke="#223" stroke-width="0.35"/>
<path d="M238.4,178.4 C244.4,178.4 250.9,180.4 254.9,184.1" fill="none" stroke="#223" stroke-width="0.35"/>
<path d="M238.4,181.0 C244.4,181.0 250.9,183.0 254.9,184.1" fill="none" stroke="#223" stroke-width="0.35"/>
<path d="M244.4,160 C246.4,168 252.9,172 254.9,184.1" fill="none" stroke="#223" stroke-width="0.35"/>
<path d="M248.4,160 C250.4,168 252.9,172 254.9,184.1" fill="none" stroke="#223" stroke-width="0.35"/>
<path d="M252.4,160 C254.4,168 252.9,172 254.9,184.1" fill="none" stroke="#223" stroke-width="0.35"/>
</g>
<path d="M238.4,184.1 L238.4,168 Q238.4,160 246.4,160 L254.9,160 L254.9,184.1 Z" fill="none" stroke="#a040c0" stroke-width="0.5"/>
<clipPath id="clip280"><path d="M280.2,184.1 L280.2,160 L288.1,160 Q296.1,160 296.1,168 L296.1,184.1 Z"/></clipPath>
<g clip-path="url(#clip280)">
<radialGradient id="rg280" cx="280.2" cy="184.1" r="25.304999999999996" gradientUnits="userSpaceOnUse"><stop offset="0" stop-color="#000"/><stop offset="0.12" stop-color="#0a2a0a"/><stop offset="0.3" stop-color="#18a028"/><stop offset="0.55" stop-color="#28c8a0"/><stop offset="0.8" stop-color="#30d4f0"/><stop offset="1" stop-color="#30d4f2"/></radialGradient>
<rect x="280.2" y="160" width="15.900000000000034" height="24.099999999999994" fill="url(#rg280)"/>
<path d="M280.2,160 L286.2,160 L280.2,169Z" fill="#1a70e8"/>
<path d="M280.2,184.1 Q280.2,164.0 280.2,160" fill="none" stroke="#111" stroke-width="0.4"/>
<path d="M280.2,184.1 Q281.1230769230769,164.0 283.2769230769231,160" fill="none" stroke="#111" stroke-width="0.4"/>
<path d="M280.2,184.1 Q282.04615384615386,164.0 286.3538461538461,160" fill="none" stroke="#111" stroke-width="0.4"/>
<path d="M280.2,184.1 Q282.96923076923076,164.0 289.4307692307692,160" fill="none" stroke="#111" stroke-width="0.4"/>
<path d="M280.2,184.1 Q283.89230769230767,164.0 292.5076923076923,160" fill="none" stroke="#111" stroke-width="0.4"/>
<path d="M280.2,184.1 Q284.81538461538463,164.0 295.5846153846154,160" fill="none" stroke="#111" stroke-width="0.4"/>
<path d="M280.2,184.1 Q284.97,165.02461538461537 296.1,162.56153846153845" fill="none" stroke="#111" stroke-width="0.4"/>
<path d="M280.2,184.1 Q284.97,166.2553846153846 296.1,165.6384615384615" fill="none" stroke="#111" stroke-width="0.4"/>
<path d="M280.2,184.1 Q284.97,167.48615384615385 296.1,168.7153846153846" fill="none" stroke="#111" stroke-width="0.4"/>
<path d="M280.2,184.1 Q284.97,168.71692307692308 296.1,171.79230769230767" fill="none" stroke="#111" stroke-width="0.4"/>
<path d="M280.2,184.1 Q284.97,169.9476923076923 296.1,174.86923076923077" fill="none" stroke="#111" stroke-width="0.4"/>
<path d="M280.2,184.1 Q284.97,171.17846153846153 296.1,177.94615384615383" fill="none" stroke="#111" stroke-width="0.4"/>
<path d="M280.2,184.1 Q284.97,172.40923076923076 296.1,181.02307692307693" fill="none" stroke="#111" stroke-width="0.4"/>
<path d="M280.2,184.1 Q284.97,173.64 296.1,184.1" fill="none" stroke="#111" stroke-width="0.4"/>
<path d="M280.2,184.1 L289.2,184.1 Q283.2,180.1 280.2,172.1Z" fill="#0a0a0a"/>
</g>
<path d="M280.2,184.1 L280.2,160 L288.1,160 Q296.1,160 296.1,168 L296.1,184.1 Z" fill="none" stroke="#a040c0" stroke-width="0.5"/>
<text x="212.3" y="181" font-size="12.5" font-weight="bold" text-anchor="start" fill="#000" font-family="DejaVu Sans, sans-serif">S</text>
<text x="260.9" y="180.5" font-size="12.5" font-weight="bold" text-anchor="start" fill="#000" font-family="DejaVu Sans, sans-serif">G</text>
<text x="308.7" y="180.5" font-size="12.5" font-weight="bold" text-anchor="start" fill="#000" font-family="DejaVu Sans, sans-serif">D</text>
<path d="M194.4,151.7 L194.4,252.6 L340.2,252.6" fill="none" stroke="#9a9a9a" stroke-width="1"/>
<path d="M192.9,151.7 L194.4,151.7" stroke="#9a9a9a" stroke-width="1"/>
<path d="M191.4,160.39999999999998 L194.4,160.39999999999998" stroke="#9a9a9a" stroke-width="0.8"/>
<text x="187.9" y="162.79999999999998" font-size="6.8" font-weight="bold" text-anchor="end" fill="#222" >-0.2</text>
<path d="M191.4,184.1 L194.4,184.1" stroke="#9a9a9a" stroke-width="0.8"/>
<text x="187.9" y="186.5" font-size="6.8" font-weight="bold" text-anchor="end" fill="#222" >0</text>
<path d="M191.4,207.8 L194.4,207.8" stroke="#9a9a9a" stroke-width="0.8"/>
<text x="187.9" y="210.20000000000002" font-size="6.8" font-weight="bold" text-anchor="end" fill="#222" >0.2</text>
<path d="M191.4,231.5 L194.4,231.5" stroke="#9a9a9a" stroke-width="0.8"/>
<text x="187.9" y="233.9" font-size="6.8" font-weight="bold" text-anchor="end" fill="#222" >0.4</text>
<path d="M207.99999999999997,252.6 L207.99999999999997,255.1" stroke="#9a9a9a" stroke-width="0.8"/>
<text x="207.99999999999997" y="262.1" font-size="6.8" font-weight="bold" text-anchor="middle" fill="#222" >-0.4</text>
<path d="M237.2,252.6 L237.2,255.1" stroke="#9a9a9a" stroke-width="0.8"/>
<text x="237.2" y="262.1" font-size="6.8" font-weight="bold" text-anchor="middle" fill="#222" >-0.2</text>
<path d="M266.4,252.6 L266.4,255.1" stroke="#9a9a9a" stroke-width="0.8"/>
<text x="266.4" y="262.1" font-size="6.8" font-weight="bold" text-anchor="middle" fill="#222" >0</text>
<path d="M295.59999999999997,252.6 L295.59999999999997,255.1" stroke="#9a9a9a" stroke-width="0.8"/>
<text x="295.59999999999997" y="262.1" font-size="6.8" font-weight="bold" text-anchor="middle" fill="#222" >0.2</text>
<path d="M324.79999999999995,252.6 L324.79999999999995,255.1" stroke="#9a9a9a" stroke-width="0.8"/>
<text x="324.79999999999995" y="262.1" font-size="6.8" font-weight="bold" text-anchor="middle" fill="#222" >0.4</text>
<text x="334.7" y="263.1" font-size="10.5" font-weight="bold" text-anchor="start" fill="#000" >X</text>
<text x="180.9" y="199" font-size="10" font-weight="bold" text-anchor="start" fill="#000" >Y</text>
<text x="55.5" y="274.9" font-size="8.2" font-weight="bold" text-anchor="start" fill="#1a1a1a" font-family="DejaVu Sans, sans-serif" textLength="240.5" lengthAdjust="spacingAndGlyphs">(b) Perturbation in Potential as Hole Injection Increases</text>
<clipPath id="clipC1"><rect x="25.7" y="336.6" width="142.3" height="59.19999999999999"/></clipPath>
<g clip-path="url(#clipC1)">
<rect x="25.7" y="336.6" width="142.3" height="59.19999999999999" fill="#2ee01c"/>
<ellipse cx="98.35" cy="397.8" rx="90.0" ry="88.2" fill="#2ee01c" stroke="#2a3a10" stroke-width="0.35"/>
<ellipse cx="98.35" cy="397.8" rx="81.0" ry="79.38" fill="#3ee319" stroke="#2a3a10" stroke-width="0.35"/>
<ellipse cx="98.35" cy="397.8" rx="72.0" ry="70.56" fill="#53e514" stroke="#2a3a10" stroke-width="0.35"/>
<ellipse cx="98.35" cy="397.8" rx="63.0" ry="61.74" fill="#6ce80d" stroke="#2a3a10" stroke-width="0.35"/>
<ellipse cx="98.35" cy="397.8" rx="54.0" ry="52.92" fill="#83eb06" stroke="#2a3a10" stroke-width="0.35"/>
<ellipse cx="98.35" cy="397.8" rx="45.0" ry="44.1" fill="#99ee00" stroke="#2a3a10" stroke-width="0.35"/>
<ellipse cx="98.35" cy="397.8" rx="36.0" ry="35.28" fill="#a5ef00" stroke="#2a3a10" stroke-width="0.35"/>
<ellipse cx="98.35" cy="397.8" rx="27.0" ry="26.46" fill="#b0f000" stroke="#2a3a10" stroke-width="0.35"/>
<path d="M71.35,345.6 C83.35,348.6 89.35,358.6 93.35,362.6 C103.35,358.6 111.35,352.6 123.35,350.6 L123.35,345.6Z" fill="#98ee00" stroke="#2a3a10" stroke-width="0.35"/>
<path d="M119.8,360.6 L168,360.6 L168,395.8 L137.35,395.8 C135.35,376.6 117.8,366.6 119.8,360.6Z" fill="#48e41a" stroke="#2a3a10" stroke-width="0.35"/>
<path d="M146.35,395.8 C144.35,376.6 127.8,366.6 132.8,360.6" fill="none" stroke="#2a3a10" stroke-width="0.35"/>
<path d="M155.35,395.8 C153.35,376.6 135.8,366.6 141.8,360.6" fill="none" stroke="#2a3a10" stroke-width="0.35"/>
<path d="M164.35,395.8 C162.35,376.6 143.8,366.6 150.8,360.6" fill="none" stroke="#2a3a10" stroke-width="0.35"/>
<path d="M105.8,345.6 C113.8,356.6 129.8,360.6 168,360.6 L168,345.6Z" fill="#e0f000"/>
<path d="M106.8,345.6 C113.8,348.6 131.8,349.6 168,348.6" fill="none" stroke="#2a3a10" stroke-width="0.35"/>
<path d="M108.8,345.6 C115.8,350.8 131.8,351.8 168,350.90000000000003" fill="none" stroke="#2a3a10" stroke-width="0.35"/>
<path d="M110.8,345.6 C117.8,353.0 131.8,354.0 168,353.20000000000005" fill="none" stroke="#2a3a10" stroke-width="0.35"/>
<path d="M112.8,345.6 C119.8,355.20000000000005 131.8,356.20000000000005 168,355.5" fill="none" stroke="#2a3a10" stroke-width="0.35"/>
<path d="M114.8,345.6 C121.8,357.40000000000003 131.8,358.40000000000003 168,357.8" fill="none" stroke="#2a3a10" stroke-width="0.35"/>
<path d="M116.8,345.6 C123.8,359.6 131.8,360.6 168,360.1" fill="none" stroke="#2a3a10" stroke-width="0.35"/>
<path d="M123.8,346.1 L123.8,360.1 L168,360.1" fill="none" stroke="#f4f4f4" stroke-width="0.8"/>
<ellipse cx="76.64999999999999" cy="395.8" rx="19.5" ry="29.0" fill="#d0f000" stroke="#2a3a10" stroke-width="0.35"/>
<ellipse cx="79.85" cy="395.8" rx="16.3" ry="24.4" fill="#e2f000" stroke="#2a3a10" stroke-width="0.35"/>
<ellipse cx="83.05" cy="395.8" rx="13.1" ry="19.8" fill="#eef000" stroke="#2a3a10" stroke-width="0.35"/>
<ellipse cx="86.25" cy="395.8" rx="9.899999999999999" ry="15.200000000000001" fill="#f2f000" stroke="#2a3a10" stroke-width="0.35"/>
<ellipse cx="89.44999999999999" cy="395.8" rx="6.699999999999999" ry="10.600000000000001" fill="#f2ea00" stroke="#2a3a10" stroke-width="0.35"/>
<ellipse cx="92.64999999999999" cy="395.8" rx="3.5" ry="6.0" fill="#f2dc00" stroke="#2a3a10" stroke-width="0.35"/>
<ellipse cx="118.05" cy="395.8" rx="19.5" ry="29.0" fill="#d0f000" stroke="#2a3a10" stroke-width="0.35"/>
<ellipse cx="114.85" cy="395.8" rx="16.3" ry="24.4" fill="#e2f000" stroke="#2a3a10" stroke-width="0.35"/>
<ellipse cx="111.64999999999999" cy="395.8" rx="13.1" ry="19.8" fill="#eef000" stroke="#2a3a10" stroke-width="0.35"/>
<ellipse cx="108.44999999999999" cy="395.8" rx="9.899999999999999" ry="15.200000000000001" fill="#f2f000" stroke="#2a3a10" stroke-width="0.35"/>
<ellipse cx="105.25" cy="395.8" rx="6.699999999999999" ry="10.600000000000001" fill="#f2ea00" stroke="#2a3a10" stroke-width="0.35"/>
<ellipse cx="102.05" cy="395.8" rx="3.5" ry="6.0" fill="#f2dc00" stroke="#2a3a10" stroke-width="0.35"/>
<path d="M97.35,395.8 L97.35,373.8" stroke="#2a3a10" stroke-width="0.35"/>
</g>
<path d="M91.35,395.5 L104.35,395.5" stroke="#5a2a4a" stroke-width="1"/>
<rect x="25.7" y="336.6" width="142.3" height="9.3" fill="#f0e600"/>
<path d="M45.7,345.90000000000003 C47.7,339.6 55.7,338.1 65.7,338.1 L90.9,338.1 L88.9,345.90000000000003Z" fill="#f0b400"/>
<path d="M47.7,336.90000000000003 L92.9,336.90000000000003 L92.9,342.1 C79.9,342.1 55.7,342.1 47.7,336.90000000000003Z" fill="#f07c00"/>
<path d="M84.9,336.6 L109.8,336.6 L113.8,345.6 L82.9,345.6Z" fill="#f0c000"/>
<path d="M108.8,336.6 L143.8,336.6 C147.8,339.6 141.8,343.6 129.8,343.6 C115.8,344.6 109.8,341.6 108.8,336.6Z" fill="#f04800"/>
<path d="M143.8,336.6 L168,336.6 L168,340.6 C153,342.6 149.8,342.6 143.8,336.6Z" fill="#f0b000"/>
<path d="M86.9,336.6 C88.9,342.6 97.35,342.6 107.8,336.6" fill="none" stroke="#553" stroke-width="0.35"/>
<path d="M90.9,336.6 C92.9,342.6 97.35,343.6 104.8,336.6" fill="none" stroke="#553" stroke-width="0.35"/>
<path d="M94.9,336.6 C96.9,342.6 97.35,344.6 101.8,336.6" fill="none" stroke="#553" stroke-width="0.35"/>
<path d="M25.7,345.90000000000003 L75.9,345.90000000000003 Q82.9,345.6 85.9,336.6" fill="none" stroke="#111" stroke-width="1.1"/>
<path d="M108.8,336.6 Q110.8,345.6 119.8,346.20000000000005 L168,346.20000000000005" fill="none" stroke="#3a2a10" stroke-width="0.8"/>
<path d="M111.8,336.6 C111.8,342.6 117.8,344.6 129.8,344.6 C139.8,344.6 145.8,340.6 143.8,336.6" fill="none" stroke="#a01010" stroke-width="0.6"/>
<path d="M84.9,336.3 L109.8,336.3" stroke="#a020a0" stroke-width="0.8"/>
<path d="M68.4,336.6 L68.4,322.7 Q68.4,313.2 77.9,313.2 L84.9,313.2 L84.9,336.6 Z" fill="#d5a116" stroke="#8a6a10" stroke-width="0.4"/>
<path d="M109.8,336.6 L109.8,313.2 L115.8,313.2 Q125.3,313.2 125.3,322.7 L125.3,336.6 Z" fill="#d5a116" stroke="#8a6a10" stroke-width="0.4"/>
<path d="M85.2,313.2 L85.2,336.20000000000005 L109.5,336.20000000000005 L109.5,313.2" fill="none" stroke="#9a2a8a" stroke-width="0.8"/>
<text x="38.6" y="333" font-size="12" font-weight="normal" text-anchor="start" fill="#000" >S</text>
<text x="90.9" y="333.5" font-size="12" font-weight="normal" text-anchor="start" fill="#000" >G</text>
<text x="136.3" y="333.5" font-size="12" font-weight="normal" text-anchor="start" fill="#000" >D</text>
<path d="M25.5,304.3 L25.5,405.3 L169.5,405.3" fill="none" stroke="#9a9a9a" stroke-width="1"/>
<path d="M24.0,304.3 L25.5,304.3" stroke="#9a9a9a" stroke-width="1"/>
<path d="M22.5,312.90000000000003 L25.5,312.90000000000003" stroke="#9a9a9a" stroke-width="0.8"/>
<text x="19.0" y="315.3" font-size="6.8" font-weight="bold" text-anchor="end" fill="#222" >-0.2</text>
<path d="M22.5,336.6 L25.5,336.6" stroke="#9a9a9a" stroke-width="0.8"/>
<text x="19.0" y="339.0" font-size="6.8" font-weight="bold" text-anchor="end" fill="#222" >0</text>
<path d="M22.5,360.3 L25.5,360.3" stroke="#9a9a9a" stroke-width="0.8"/>
<text x="19.0" y="362.7" font-size="6.8" font-weight="bold" text-anchor="end" fill="#222" >0.2</text>
<path d="M22.5,384.0 L25.5,384.0" stroke="#9a9a9a" stroke-width="0.8"/>
<text x="19.0" y="386.4" font-size="6.8" font-weight="bold" text-anchor="end" fill="#222" >0.4</text>
<path d="M40.199999999999996,405.3 L40.199999999999996,407.8" stroke="#9a9a9a" stroke-width="0.8"/>
<text x="40.199999999999996" y="414.8" font-size="6.8" font-weight="bold" text-anchor="middle" fill="#222" >-0.4</text>
<path d="M68.6,405.3 L68.6,407.8" stroke="#9a9a9a" stroke-width="0.8"/>
<text x="68.6" y="414.8" font-size="6.8" font-weight="bold" text-anchor="middle" fill="#222" >-0.2</text>
<path d="M97,405.3 L97,407.8" stroke="#9a9a9a" stroke-width="0.8"/>
<text x="97" y="414.8" font-size="6.8" font-weight="bold" text-anchor="middle" fill="#222" >0</text>
<path d="M125.4,405.3 L125.4,407.8" stroke="#9a9a9a" stroke-width="0.8"/>
<text x="125.4" y="414.8" font-size="6.8" font-weight="bold" text-anchor="middle" fill="#222" >0.2</text>
<path d="M153.8,405.3 L153.8,407.8" stroke="#9a9a9a" stroke-width="0.8"/>
<text x="153.8" y="414.8" font-size="6.8" font-weight="bold" text-anchor="middle" fill="#222" >0.4</text>
<text x="161.5" y="415.8" font-size="10.5" font-weight="bold" text-anchor="start" fill="#000" >X</text>
<text x="12.0" y="352" font-size="10" font-weight="bold" text-anchor="start" fill="#000" >Y</text>
<clipPath id="clipC2"><rect x="192.6" y="336.6" width="141.6" height="59.19999999999999"/></clipPath>
<g clip-path="url(#clipC2)">
<rect x="192.6" y="336.6" width="141.6" height="59.19999999999999" fill="#f2f000"/>
<path d="M192.6,345.6 L230.6,345.6 C224.6,361.6 214.6,376.6 218.6,395.8 L192.6,395.8Z" fill="#dcef00" stroke="#4a4a10" stroke-width="0.35"/>
<path d="M192.6,345.6 L214.6,345.6 C208.6,361.6 202.6,376.6 206.6,395.8 L192.6,395.8Z" fill="#c0ea00" stroke="#4a4a10" stroke-width="0.35"/>
<path d="M192.6,345.6 L200.6,345.6 C194.6,361.6 192.6,376.6 196.6,395.8 L192.6,395.8Z" fill="#a4e200" stroke="#4a4a10" stroke-width="0.35"/>
<path d="M334.2,348.6 L288.2,348.6 C296.2,361.6 296.2,376.6 300.2,395.8 L334.2,395.8Z" fill="#e4f000" stroke="#4a4a10" stroke-width="0.35"/>
<path d="M334.2,348.6 L304.2,348.6 C312.2,361.6 310.2,376.6 314.2,395.8 L334.2,395.8Z" fill="#d0ec00" stroke="#4a4a10" stroke-width="0.35"/>
<path d="M334.2,348.6 L320.2,348.6 C328.2,361.6 322.2,376.6 326.2,395.8 L334.2,395.8Z" fill="#c0e800" stroke="#4a4a10" stroke-width="0.35"/>
<path d="M229.55,395.8 C231.55,381.8 239.55,375.8 249.55,374.8 C257.55,373.8 261.55,379.8 265.55,379.8 C269.55,379.8 275.55,373.8 283.55,374.8 C293.55,375.8 301.55,381.8 303.55,395.8Z" fill="#f2ec00" stroke="#4a4a10" stroke-width="0.35"/>
<path d="M217.55,395.8 C219.55,369.8 237.55,361.8 265.55,362.8 C293.55,361.8 313.55,369.8 315.55,395.8" fill="none" stroke="#4a4a10" stroke-width="0.35"/>
<ellipse cx="258.55" cy="353.6" rx="2.5" ry="5" fill="none" stroke="#4a4a10" stroke-width="0.4"/>
<ellipse cx="254.55" cy="395.8" rx="9" ry="6" fill="#f0cc00" stroke="#4a4a10" stroke-width="0.35"/>
<ellipse cx="254.55" cy="395.8" rx="5" ry="3" fill="#f0b800" stroke="#4a4a10" stroke-width="0.35"/>
<ellipse cx="276.55" cy="395.8" rx="9" ry="6" fill="#f0cc00" stroke="#4a4a10" stroke-width="0.35"/>
<ellipse cx="276.55" cy="395.8" rx="5" ry="3" fill="#f0b800" stroke="#4a4a10" stroke-width="0.35"/>
<path d="M273.2,345.6 C280.2,348.6 298.2,349.6 334.2,348.6" fill="none" stroke="#4a4a10" stroke-width="0.35"/>
<path d="M275.2,345.6 C282.2,351.1 298.2,352.1 334.2,351.3" fill="none" stroke="#4a4a10" stroke-width="0.35"/>
<path d="M277.2,345.6 C284.2,353.6 298.2,354.6 334.2,354.0" fill="none" stroke="#4a4a10" stroke-width="0.35"/>
<path d="M279.2,345.6 C286.2,356.1 298.2,357.1 334.2,356.70000000000005" fill="none" stroke="#4a4a10" stroke-width="0.35"/>
</g>
<path d="M257.55,395.5 L270.55,395.5" stroke="#5a2a4a" stroke-width="1"/>
<rect x="192.6" y="336.6" width="141.6" height="8.8" fill="#f0ea00"/>
<path d="M216.6,336.90000000000003 L258.9,336.90000000000003 L256.9,343.1 C245.9,343.1 222.6,342.6 216.6,336.90000000000003Z" fill="#f07a00"/>
<path d="M250.9,336.6 L276.2,336.6 L278.2,343.6 L248.9,343.6Z" fill="#f0a000"/>
<path d="M275.2,336.6 L310.2,336.6 C313.2,340.6 306.2,344.1 296.2,344.1 C282.2,344.6 276.2,341.6 275.2,336.6Z" fill="#f02c00"/>
<path d="M310.2,336.6 L334.2,336.6 L334.2,339.6 C319.2,341.6 316.2,341.6 310.2,336.6Z" fill="#f0b800"/>
<path d="M192.6,352.6 L238.9,352.6 C242.9,352.6 244.9,350.6 246.9,348.6" fill="none" stroke="#f4f4f4" stroke-width="0.7"/>
<path d="M252.9,336.6 C254.9,342.6 263.55,342.6 274.2,336.6" fill="none" stroke="#553" stroke-width="0.35"/>
<path d="M256.9,336.6 C258.9,342.6 263.55,343.6 271.2,336.6" fill="none" stroke="#553" stroke-width="0.35"/>
<path d="M260.9,336.6 C262.9,342.6 263.55,344.6 268.2,336.6" fill="none" stroke="#553" stroke-width="0.35"/>
<path d="M192.6,345.90000000000003 L241.9,345.90000000000003 Q248.9,345.6 251.9,336.6" fill="none" stroke="#111" stroke-width="1.1"/>
<path d="M275.2,336.6 Q277.2,345.6 286.2,346.20000000000005 L334.2,346.20000000000005" fill="none" stroke="#3a2a10" stroke-width="0.8"/>
<path d="M278.2,336.6 C278.2,342.6 284.2,344.6 296.2,344.6 C306.2,344.6 312.2,340.6 310.2,336.6" fill="none" stroke="#a01010" stroke-width="0.6"/>
<path d="M250.9,336.3 L276.2,336.3" stroke="#a020a0" stroke-width="0.8"/>
<path d="M235,336.6 L235,322.7 Q235,313.2 244.5,313.2 L250.9,313.2 L250.9,336.6 Z" fill="#d5a116" stroke="#8a6a10" stroke-width="0.4"/>
<path d="M276.2,336.6 L276.2,313.2 L281.9,313.2 Q291.4,313.2 291.4,322.7 L291.4,336.6 Z" fill="#d5a116" stroke="#8a6a10" stroke-width="0.4"/>
<path d="M251.20000000000002,313.2 L251.20000000000002,336.20000000000005 L275.9,336.20000000000005 L275.9,313.2" fill="none" stroke="#9a2a8a" stroke-width="0.8"/>
<text x="204.5" y="327.9" font-size="12" font-weight="normal" text-anchor="start" fill="#000" >S</text>
<text x="257.3" y="332.3" font-size="12" font-weight="normal" text-anchor="start" fill="#000" >G</text>
<text x="304.3" y="332.9" font-size="12" font-weight="normal" text-anchor="start" fill="#000" >D</text>
<path d="M192.4,304.3 L192.4,402.9 L335.7,402.9" fill="none" stroke="#9a9a9a" stroke-width="1"/>
<path d="M190.9,304.3 L192.4,304.3" stroke="#9a9a9a" stroke-width="1"/>
<path d="M189.4,312.90000000000003 L192.4,312.90000000000003" stroke="#9a9a9a" stroke-width="0.8"/>
<text x="185.9" y="315.3" font-size="6.8" font-weight="bold" text-anchor="end" fill="#222" >-0.2</text>
<path d="M189.4,336.6 L192.4,336.6" stroke="#9a9a9a" stroke-width="0.8"/>
<text x="185.9" y="339.0" font-size="6.8" font-weight="bold" text-anchor="end" fill="#222" >0</text>
<path d="M189.4,360.3 L192.4,360.3" stroke="#9a9a9a" stroke-width="0.8"/>
<text x="185.9" y="362.7" font-size="6.8" font-weight="bold" text-anchor="end" fill="#222" >0.2</text>
<path d="M189.4,384.0 L192.4,384.0" stroke="#9a9a9a" stroke-width="0.8"/>
<text x="185.9" y="386.4" font-size="6.8" font-weight="bold" text-anchor="end" fill="#222" >0.4</text>
<path d="M205.70000000000002,402.9 L205.70000000000002,405.4" stroke="#9a9a9a" stroke-width="0.8"/>
<text x="205.70000000000002" y="415.0" font-size="6.8" font-weight="bold" text-anchor="middle" fill="#222" >-0.4</text>
<path d="M234.0,402.9 L234.0,405.4" stroke="#9a9a9a" stroke-width="0.8"/>
<text x="234.0" y="415.0" font-size="6.8" font-weight="bold" text-anchor="middle" fill="#222" >-0.2</text>
<path d="M262.3,402.9 L262.3,405.4" stroke="#9a9a9a" stroke-width="0.8"/>
<text x="262.3" y="415.0" font-size="6.8" font-weight="bold" text-anchor="middle" fill="#222" >0</text>
<path d="M290.6,402.9 L290.6,405.4" stroke="#9a9a9a" stroke-width="0.8"/>
<text x="290.6" y="415.0" font-size="6.8" font-weight="bold" text-anchor="middle" fill="#222" >0.2</text>
<path d="M318.90000000000003,402.9 L318.90000000000003,405.4" stroke="#9a9a9a" stroke-width="0.8"/>
<text x="318.90000000000003" y="415.0" font-size="6.8" font-weight="bold" text-anchor="middle" fill="#222" >0.4</text>
<text x="329" y="416" font-size="10.5" font-weight="bold" text-anchor="start" fill="#000" >X</text>
<text x="178.9" y="352" font-size="10" font-weight="bold" text-anchor="start" fill="#000" >Y</text>
<rect x="24.8" y="428.6" width="85.2" height="8.3" fill="url(#cbh)"/>
<text x="26.8" y="426.6" font-size="2.6" font-weight="normal" text-anchor="middle" fill="#555" >1.0e-01</text>
<text x="40.333333333333336" y="426.6" font-size="2.6" font-weight="normal" text-anchor="middle" fill="#555" >1.0e-01</text>
<text x="53.86666666666667" y="426.6" font-size="2.6" font-weight="normal" text-anchor="middle" fill="#555" >1.0e-01</text>
<text x="67.4" y="426.6" font-size="2.6" font-weight="normal" text-anchor="middle" fill="#555" >1.0e-01</text>
<text x="80.93333333333334" y="426.6" font-size="2.6" font-weight="normal" text-anchor="middle" fill="#555" >1.0e-01</text>
<text x="94.46666666666667" y="426.6" font-size="2.6" font-weight="normal" text-anchor="middle" fill="#555" >1.0e-01</text>
<text x="108.0" y="426.6" font-size="2.6" font-weight="normal" text-anchor="middle" fill="#555" >1.0e-01</text>
<rect x="191" y="427.3" width="84.5" height="8.3" fill="url(#cbh)"/>
<text x="193.0" y="425.3" font-size="2.6" font-weight="normal" text-anchor="middle" fill="#555" >1.0e-01</text>
<text x="206.41666666666666" y="425.3" font-size="2.6" font-weight="normal" text-anchor="middle" fill="#555" >1.0e-01</text>
<text x="219.83333333333334" y="425.3" font-size="2.6" font-weight="normal" text-anchor="middle" fill="#555" >1.0e-01</text>
<text x="233.25" y="425.3" font-size="2.6" font-weight="normal" text-anchor="middle" fill="#555" >1.0e-01</text>
<text x="246.66666666666666" y="425.3" font-size="2.6" font-weight="normal" text-anchor="middle" fill="#555" >1.0e-01</text>
<text x="260.0833333333333" y="425.3" font-size="2.6" font-weight="normal" text-anchor="middle" fill="#555" >1.0e-01</text>
<text x="273.5" y="425.3" font-size="2.6" font-weight="normal" text-anchor="middle" fill="#555" >1.0e-01</text>
<text x="27" y="420.2" font-size="4" font-weight="bold" text-anchor="start" fill="#222" textLength="82" lengthAdjust="spacingAndGlyphs">AbsoluteCurrentDensity-\/ (A^cm^-2)</text>
<text x="193.9" y="419.3" font-size="4" font-weight="bold" text-anchor="start" fill="#222" textLength="81" lengthAdjust="spacingAndGlyphs">AbsoluteCurrentDensity-\/ (A^cm^-2)</text>
<text x="107" y="447.8" font-size="8.9" font-weight="bold" text-anchor="start" fill="#1a1a1a" font-family="DejaVu Sans, sans-serif" textLength="133" lengthAdjust="spacingAndGlyphs">(c) Electron Injection Increases</text>
<path d="M1,134.3 L345.6,134.3" stroke="#000" stroke-width="2.9"/>
<path d="M333.20000000000005,128.4 L346.6,134.3 L333.20000000000005,140.20000000000002" fill="none" stroke="#000" stroke-width="2.9" stroke-linecap="round" stroke-linejoin="round"/>
<path d="M0,286.0 L339.6,286.0" stroke="#000" stroke-width="2.9"/>
<path d="M327.20000000000005,280.6 L340.6,286.0 L327.20000000000005,291.4" fill="none" stroke="#000" stroke-width="2.9" stroke-linecap="round" stroke-linejoin="round"/>
<path d="M0,455.0 L340.2,455.0" stroke="#000" stroke-width="2.9"/>
<path d="M327.8,449.4 L341.2,455.0 L327.8,460.6" fill="none" stroke="#000" stroke-width="2.9" stroke-linecap="round" stroke-linejoin="round"/>
<path d="M444.5,15 L444.5,465" stroke="#2274e8" stroke-width="1.0" stroke-dasharray="1.3,1.2"/>
<circle cx="360.6" cy="10.3" r="7.9" fill="none" stroke="#3d5f94" stroke-width="1.6"/>
<text x="375.2" y="18.3" font-size="14.8" font-weight="normal" text-anchor="start" fill="#111" textLength="59" lengthAdjust="spacingAndGlyphs">Electrons</text>
<circle cx="485.4" cy="14.4" r="6.3" fill="#ee1010"/>
<text x="496.9" y="19.4" font-size="15.2" font-weight="normal" text-anchor="start" fill="#111" textLength="35.8" lengthAdjust="spacingAndGlyphs">Holes</text>
<path d="M529.5,34 L529.5,88 L572,88" fill="none" stroke="#000" stroke-width="2.7"/>
<path d="M529.5,27.5 L525.2,35.5 L533.8,35.5 Z" fill="#000"/>
<path d="M579,88 L571,83.7 L571,92.3 Z" fill="#000"/>
<text transform="translate(543.5,44.4) scale(0.84,1)" font-size="26.5" font-weight="bold" text-anchor="middle" fill="#000" >Y</text>
<text transform="translate(594,99.2) scale(0.9,1)" font-size="25.5" font-weight="bold" text-anchor="middle" fill="#000" >X</text>
<path d="M358.3,96.3 L508.5,96.3" fill="none" stroke="#000" stroke-width="1.9" stroke-linecap="butt" stroke-linejoin="round" />
<path d="M358.0,22.6 C361.7,23.0 372.7,22.9 380.0,25.0 C387.3,27.1 396.2,31.7 401.8,35.0 C407.4,38.3 410.5,42.3 413.8,44.9 C417.1,47.5 418.8,50.6 421.8,50.5 C424.8,50.4 429.1,46.3 431.7,44.5 C434.3,42.7 436.2,39.8 437.7,39.9 C439.2,40.0 440.3,43.0 440.5,45.0 C440.7,47.0 439.7,49.9 439.0,52.0 C438.3,54.1 436.2,55.8 436.1,57.9 C436.1,60.0 436.4,61.6 438.7,64.8 C441.0,68.0 446.1,73.3 449.7,76.8 C453.2,80.3 455.5,82.4 460.0,85.7 C464.5,89.0 471.5,93.2 476.5,96.5 C481.5,99.8 484.8,102.7 489.8,105.7 C494.8,108.8 500.0,112.0 506.4,114.8 C512.8,117.6 524.4,121.0 528.0,122.3" fill="none" stroke="#0866fa" stroke-width="2.1" stroke-linecap="butt" stroke-linejoin="round" />
<path d="M381.9,24.0 C384.5,24.5 395.1,26.5 397.8,27.0" fill="none" stroke="#0866fa" stroke-width="2.1" stroke-linecap="butt" stroke-linejoin="round" />
<path d="M402.0,28.2 C404.3,29.1 411.9,32.1 415.8,33.9 C419.8,35.7 424.1,38.1 425.7,38.9" fill="none" stroke="#0866fa" stroke-width="2.1" stroke-linecap="butt" stroke-linejoin="round" />
<path d="M428.5,41.0 C429.4,42.1 432.8,46.8 433.7,47.9" fill="none" stroke="#0866fa" stroke-width="2.1" stroke-linecap="butt" stroke-linejoin="round" />
<path d="M437.5,54.0 C438.4,55.6 441.8,62.2 442.7,63.8" fill="none" stroke="#0866fa" stroke-width="2.1" stroke-linecap="butt" stroke-linejoin="round" />
<path d="M445.0,65.0 C445.8,66.1 447.4,69.0 450.0,71.6 C452.6,74.2 459.0,79.2 460.8,80.7" fill="none" stroke="#0866fa" stroke-width="2.1" stroke-linecap="butt" stroke-linejoin="round" />
<path d="M467.4,84.9 C469.6,85.9 478.5,89.7 480.7,90.7" fill="none" stroke="#0866fa" stroke-width="2.1" stroke-linecap="butt" stroke-linejoin="round" />
<path d="M488.2,94.0 C489.5,94.3 493.4,95.2 496.0,95.6 C498.6,96.0 502.7,96.1 504.0,96.2" fill="none" stroke="#0866fa" stroke-width="2.1" stroke-linecap="butt" stroke-linejoin="round" />
<path d="M422.5,59.5 L422.5,140.5" fill="none" stroke="#0866fa" stroke-width="2.0" stroke-linecap="butt" stroke-linejoin="round" />
<path d="M349.2,103.3 C351.3,102.9 357.3,101.5 361.6,101.1 C365.9,100.7 371.0,100.5 374.9,101.1 C378.8,101.7 382.4,103.4 384.9,104.5 C387.4,105.6 388.2,106.6 389.9,107.8 C391.5,109.0 393.1,110.4 394.8,111.9 C396.5,113.4 398.1,115.2 400.0,117.0 C401.9,118.8 404.0,121.3 406.0,123.0 C408.0,124.7 410.2,125.6 412.0,127.0 C413.8,128.4 415.4,129.2 416.8,131.4 C418.2,133.7 418.7,137.3 420.5,140.5 C422.3,143.7 425.1,147.7 427.8,150.6 C430.5,153.5 434.1,155.9 436.9,157.9 C439.6,159.9 440.3,159.8 444.3,162.5 C448.3,165.2 454.9,170.6 460.7,174.4 C466.5,178.2 472.9,182.1 479.0,185.3 C485.1,188.5 490.6,191.3 497.3,193.6 C504.0,195.9 515.6,198.1 519.2,199.0" fill="none" stroke="#f20808" stroke-width="2.1" stroke-linecap="butt" stroke-linejoin="round" />
<path d="M364.9,99.0 C367.1,99.1 376.0,99.4 378.2,99.5" fill="none" stroke="#f20808" stroke-width="2.1" stroke-linecap="butt" stroke-linejoin="round" />
<path d="M388.2,98.6 C389.5,98.6 393.5,98.6 396.0,98.8 C398.5,99.0 401.9,99.4 403.1,99.5" fill="none" stroke="#f20808" stroke-width="2.1" stroke-linecap="butt" stroke-linejoin="round" />
<path d="M410.6,102.8 C411.9,103.3 416.0,104.3 418.1,106.0 C420.2,107.7 422.2,111.8 423.0,113.0" fill="none" stroke="#f20808" stroke-width="2.1" stroke-linecap="butt" stroke-linejoin="round" />
<path d="M424.7,121.9 C425.2,123.0 427.4,127.4 428.0,128.5" fill="none" stroke="#f20808" stroke-width="2.1" stroke-linecap="butt" stroke-linejoin="round" />
<path d="M431.5,137.8 C432.9,139.6 438.3,147.0 439.7,148.8" fill="none" stroke="#f20808" stroke-width="2.1" stroke-linecap="butt" stroke-linejoin="round" />
<path d="M445.2,154.3 C446.2,155.0 448.9,157.3 451.0,158.5 C453.1,159.7 456.8,160.8 458.0,161.2" fill="none" stroke="#f20808" stroke-width="2.1" stroke-linecap="butt" stroke-linejoin="round" />
<path d="M466.2,163.8 C468.3,163.9 476.9,164.2 479.0,164.3" fill="none" stroke="#f20808" stroke-width="2.1" stroke-linecap="butt" stroke-linejoin="round" />
<path d="M489.0,164.3 C490.7,164.2 497.4,163.9 499.1,163.8" fill="none" stroke="#f20808" stroke-width="2.1" stroke-linecap="butt" stroke-linejoin="round" />
<path d="M411.0,104.0 C411.8,103.6 414.5,101.7 416.0,101.5 C417.5,101.3 419.1,101.9 420.0,103.0 C420.9,104.1 421.2,107.2 421.5,108.0" fill="none" stroke="#f20808" stroke-width="1.6" stroke-linecap="butt" stroke-linejoin="round" />
<circle cx="401.5" cy="115.3" r="2.9" fill="#ee1010" stroke="#000" stroke-width="1.6"/>
<circle cx="411.1" cy="111.9" r="2.9" fill="#ee1010" stroke="#000" stroke-width="1.6"/>
<circle cx="419.3" cy="116.6" r="2.9" fill="#ee1010" stroke="#000" stroke-width="1.6"/>
<circle cx="400.1" cy="123.9" r="2.9" fill="#ee1010" stroke="#000" stroke-width="1.6"/>
<circle cx="409.5" cy="121.6" r="2.9" fill="#ee1010" stroke="#000" stroke-width="1.6"/>
<circle cx="422.2" cy="124.1" r="2.9" fill="#ee1010" stroke="#000" stroke-width="1.6"/>
<circle cx="404.8" cy="130.7" r="2.9" fill="#ee1010" stroke="#000" stroke-width="1.6"/>
<circle cx="414.4" cy="128.5" r="2.9" fill="#ee1010" stroke="#000" stroke-width="1.6"/>
<text x="467.2" y="44.2" font-size="9" font-weight="normal" text-anchor="start" fill="#333" textLength="30.8" lengthAdjust="spacingAndGlyphs">Stage 1</text>
<text x="492.2" y="64.1" font-size="6.5" font-weight="normal" text-anchor="start" fill="#333" textLength="26.8" lengthAdjust="spacingAndGlyphs">No band</text>
<text x="492.8" y="71.3" font-size="6.5" font-weight="normal" text-anchor="start" fill="#333" textLength="26.2" lengthAdjust="spacingAndGlyphs">bending</text>
<path d="M491.9,148.5 L491.9,103" fill="none" stroke="#666" stroke-width="1.0" stroke-linecap="butt" stroke-linejoin="round" />
<path d="M491.9,99.6 L489.8,104.6 L494,104.6 Z" fill="#222"/>
<circle cx="492.2" cy="148.4" r="1.1" fill="#222"/>
<text x="465.2" y="153.8" font-size="11" font-weight="normal" text-anchor="start" fill="#333" textLength="38.4" lengthAdjust="spacingAndGlyphs">Stage 2</text>
<path d="M355,152 L413.4,152" fill="none" stroke="#000" stroke-width="1.9" stroke-linecap="butt" stroke-linejoin="round" />
<path d="M459.8,162.5 L524.3,162.5" fill="none" stroke="#000" stroke-width="1.9" stroke-linecap="butt" stroke-linejoin="round" />
<path d="M345.8,170.7 L404,170.7" fill="none" stroke="#0866fa" stroke-width="2.0" stroke-linecap="butt" stroke-linejoin="round" />
<path d="M348.7,197 L387.9,197" fill="none" stroke="#000" stroke-width="1.9" stroke-linecap="butt" stroke-linejoin="round" />
<path d="M362.4,152.0 C365.0,153.3 372.8,157.0 378.2,160.0 C383.6,163.0 389.8,166.6 394.8,169.9 C399.8,173.2 403.9,176.6 408.1,179.9 C412.3,183.2 417.0,187.4 419.8,189.9 C422.6,192.4 422.5,191.9 425.0,195.0 C427.5,198.1 431.6,204.2 434.9,208.3 C438.2,212.5 441.6,215.8 444.9,219.9 C448.2,224.1 451.8,229.9 454.9,233.2 C457.9,236.5 460.7,238.4 463.2,239.9 C465.7,241.4 466.8,241.7 469.8,242.0 C472.8,242.3 477.0,242.1 481.4,242.0 C485.8,241.9 493.9,241.8 496.4,241.7" fill="none" stroke="#0866fa" stroke-width="2.1" stroke-linecap="butt" stroke-linejoin="round" />
<path d="M496.4,241.8 L509.7,241.8" fill="none" stroke="#111" stroke-width="1.9" stroke-linecap="butt" stroke-linejoin="round" />
<path d="M379.0,152.5 C381.4,153.3 390.8,156.7 393.2,157.5" fill="none" stroke="#0866fa" stroke-width="2.1" stroke-linecap="butt" stroke-linejoin="round" />
<path d="M401.5,161.6 C403.1,162.7 409.8,167.2 411.4,168.3" fill="none" stroke="#0866fa" stroke-width="2.1" stroke-linecap="butt" stroke-linejoin="round" />
<path d="M420.6,175.7 C421.7,176.9 426.1,181.9 427.2,183.2" fill="none" stroke="#0866fa" stroke-width="2.1" stroke-linecap="butt" stroke-linejoin="round" />
<path d="M433.0,189.0 C433.6,189.7 434.9,191.2 436.6,193.0 C438.3,194.8 441.9,198.7 443.0,199.8" fill="none" stroke="#0866fa" stroke-width="2.1" stroke-linecap="butt" stroke-linejoin="round" />
<path d="M448.2,205.0 C450.0,206.4 457.2,211.9 459.0,213.3" fill="none" stroke="#0866fa" stroke-width="2.1" stroke-linecap="butt" stroke-linejoin="round" />
<path d="M465.7,218.3 C467.8,219.3 476.0,223.1 478.1,224.1" fill="none" stroke="#0866fa" stroke-width="2.1" stroke-linecap="butt" stroke-linejoin="round" />
<path d="M486.4,226.6 C487.9,227.0 494.1,228.7 495.6,229.1" fill="none" stroke="#0866fa" stroke-width="2.1" stroke-linecap="butt" stroke-linejoin="round" />
<path d="M428.7,189.5 L428.7,230" fill="none" stroke="#0866fa" stroke-width="2.0" stroke-linecap="butt" stroke-linejoin="round" />
<path d="M349.2,202.0 C351.6,201.9 360.9,201.7 363.3,201.6" fill="none" stroke="#f20808" stroke-width="2.1" stroke-linecap="butt" stroke-linejoin="round" />
<path d="M372.4,201.6 C374.8,202.2 384.1,204.7 386.5,205.3" fill="none" stroke="#f20808" stroke-width="2.1" stroke-linecap="butt" stroke-linejoin="round" />
<path d="M394.0,209.1 C396.1,210.3 404.4,215.3 406.5,216.6" fill="none" stroke="#f20808" stroke-width="2.1" stroke-linecap="butt" stroke-linejoin="round" />
<path d="M412.3,220.7 C414.1,222.2 421.3,228.4 423.1,229.9" fill="none" stroke="#f20808" stroke-width="2.1" stroke-linecap="butt" stroke-linejoin="round" />
<path d="M428.9,235.7 C430.6,237.2 437.6,243.0 439.4,244.5" fill="none" stroke="#f20808" stroke-width="2.1" stroke-linecap="butt" stroke-linejoin="round" />
<path d="M444.9,250.3 C446.7,251.5 453.9,256.2 455.7,257.4" fill="none" stroke="#f20808" stroke-width="2.1" stroke-linecap="butt" stroke-linejoin="round" />
<path d="M462.3,261.6 C464.8,262.5 474.8,266.0 477.3,266.9" fill="none" stroke="#f20808" stroke-width="2.1" stroke-linecap="butt" stroke-linejoin="round" />
<path d="M484.7,269.6 C485.9,269.8 490.9,270.5 492.2,270.7" fill="none" stroke="#f20808" stroke-width="2.1" stroke-linecap="butt" stroke-linejoin="round" />
<path d="M349.7,202.0 C352.6,203.6 361.1,208.2 367.0,211.3 C372.9,214.4 380.0,217.7 384.9,220.7 C389.8,223.7 392.6,226.0 396.5,229.1 C400.4,232.2 404.8,236.0 408.1,239.5 C411.5,243.0 413.2,245.5 416.6,250.0 C420.0,254.5 424.7,261.6 428.3,266.6 C431.9,271.6 435.2,276.3 438.2,279.9 C441.2,283.5 443.7,286.3 446.5,288.2 C449.3,290.1 451.2,290.8 454.8,291.5 C458.4,292.2 463.4,292.2 468.1,292.3 C472.8,292.4 480.6,291.9 483.1,291.8" fill="none" stroke="#0866fa" stroke-width="2.1" stroke-linecap="butt" stroke-linejoin="round" />
<path d="M483.1,292 L492.2,292" fill="none" stroke="#111" stroke-width="1.9" stroke-linecap="butt" stroke-linejoin="round" />
<path d="M419.3,190.7 L419.3,176" fill="none" stroke="#555" stroke-width="1.0" stroke-linecap="butt" stroke-linejoin="round" stroke-dasharray="2.2,1.6" />
<path d="M419.3,171.2 L417.4,176.2 L421.2,176.2 Z" fill="#222"/>
<text transform="translate(400.2,164.6) scale(0.92,1)" font-size="13.2" font-weight="normal" text-anchor="start" fill="#000" >Φ</text>
<text x="410.9" y="164.6" font-size="7.4" font-weight="normal" text-anchor="start" fill="#333" textLength="13" lengthAdjust="spacingAndGlyphs">MS</text>
<text x="449" y="274.9" font-size="6.5" font-weight="normal" text-anchor="start" fill="#333" textLength="32.4" lengthAdjust="spacingAndGlyphs">Maximum</text>
<text x="452.3" y="282.4" font-size="6.5" font-weight="normal" text-anchor="start" fill="#333" textLength="25.8" lengthAdjust="spacingAndGlyphs">bending</text>
<path d="M355.0,310.8 C357.5,310.7 365.2,309.7 369.9,310.0 C374.6,310.3 379.0,311.3 383.2,312.5 C387.4,313.7 391.2,315.3 394.8,317.4 C398.4,319.5 400.9,321.1 404.8,324.9 C408.7,328.6 413.7,335.2 418.1,339.9 C422.5,344.6 428.4,350.2 431.4,353.2 C434.4,356.2 433.9,355.8 436.1,357.7 C438.3,359.6 441.2,362.4 444.8,364.5 C448.4,366.6 452.6,368.5 457.4,370.3 C462.2,372.1 471.1,374.6 473.8,375.5" fill="none" stroke="#0866fa" stroke-width="2.1" stroke-linecap="butt" stroke-linejoin="round" />
<path d="M348.7,323.8 L429.4,323.8" fill="none" stroke="#000" stroke-width="1.9" stroke-linecap="butt" stroke-linejoin="round" />
<path d="M348.7,355.4 L493.2,355.4" fill="none" stroke="#000" stroke-width="1.9" stroke-linecap="butt" stroke-linejoin="round" />
<path d="M340.0,363.5 C342.5,363.2 350.0,362.0 355.0,361.8 C360.0,361.6 365.7,361.8 369.9,362.3 C374.1,362.8 376.4,362.9 380.0,365.0 C383.6,367.1 388.1,371.5 391.6,375.1 C395.2,378.7 398.1,382.6 401.3,386.8 C404.5,391.0 407.7,396.1 410.9,400.3 C414.1,404.5 417.4,408.5 420.6,411.9 C423.8,415.3 426.3,417.9 430.3,420.6 C434.3,423.3 440.3,426.3 444.8,428.3 C449.3,430.3 452.6,431.4 457.4,432.8 C462.2,434.2 471.1,436.3 473.8,437.0" fill="none" stroke="#f20808" stroke-width="2.2" stroke-linecap="butt" stroke-linejoin="round" />
<path d="M362.4,350.7 L362.4,336" fill="none" stroke="#777" stroke-width="1.1" stroke-linecap="butt" stroke-linejoin="round" />
<path d="M362.4,331.9 L360.4,336.9 L364.4,336.9 Z" fill="#222"/>
<path d="M388.5,331.9 L388.5,346.5" fill="none" stroke="#777" stroke-width="1.1" stroke-linecap="butt" stroke-linejoin="round" />
<path d="M388.5,350.7 L386.5,345.7 L390.5,345.7 Z" fill="#222"/>
<ellipse cx="364.5" cy="324.5" rx="6.8" ry="6.0" fill="#fff" stroke="#000" stroke-width="2.2"/>
<ellipse cx="387.8" cy="324.5" rx="6.8" ry="6.0" fill="#fff" stroke="#000" stroke-width="2.2"/>
<ellipse cx="363.7" cy="357.8" rx="6.8" ry="6.0" fill="#ee0808" stroke="#000" stroke-width="2.2"/>
<ellipse cx="389.2" cy="357.8" rx="7.3" ry="6.0" fill="#ee0808" stroke="#000" stroke-width="2.2"/>
<text x="447.9" y="346.4" font-size="11" font-weight="normal" text-anchor="start" fill="#333" textLength="39.2" lengthAdjust="spacingAndGlyphs">Stage 3</text>
<text x="437.6" y="387.7" font-size="6.2" font-weight="normal" text-anchor="start" fill="#333" textLength="48.2" lengthAdjust="spacingAndGlyphs">Recombination</text>
<text x="443.8" y="395.5" font-size="6.2" font-weight="normal" text-anchor="start" fill="#333" textLength="35" lengthAdjust="spacingAndGlyphs">Dominated</text>
<text transform="translate(535.4,150.10000000000002) scale(0.8,1)" font-size="25.8" font-weight="bold" text-anchor="start" fill="#000" >E</text>
<text transform="translate(548.9,157.2) scale(0.86,1)" font-size="15.2" font-weight="normal" text-anchor="start" fill="#000" >C</text>
<text transform="translate(530.4,225.20000000000002) scale(0.8,1)" font-size="25.8" font-weight="bold" text-anchor="start" fill="#000" >E</text>
<text transform="translate(543.9,232.6) scale(0.9,1)" font-size="15.2" font-weight="normal" text-anchor="start" fill="#000" >V</text>
<text transform="translate(514.9,261.1) scale(0.8,1)" font-size="25.8" font-weight="bold" text-anchor="start" fill="#000" >E</text>
<text transform="translate(528.8,268.2) scale(0.86,1)" font-size="15.2" font-weight="normal" text-anchor="start" fill="#000" >C</text>
<text transform="translate(500.29999999999995,306.1) scale(0.8,1)" font-size="25.8" font-weight="bold" text-anchor="start" fill="#000" >E</text>
<text transform="translate(513.3,313.4) scale(0.9,1)" font-size="15.2" font-weight="normal" text-anchor="start" fill="#000" >V</text>
<text transform="translate(499.9,392.8) scale(0.8,1)" font-size="25.8" font-weight="bold" text-anchor="start" fill="#000" >E</text>
<text transform="translate(513.8,399.59999999999997) scale(0.86,1)" font-size="15.2" font-weight="normal" text-anchor="start" fill="#000" >C</text>
<text transform="translate(474.59999999999997,452.90000000000003) scale(0.8,1)" font-size="25.8" font-weight="bold" text-anchor="start" fill="#000" >E</text>
<text transform="translate(488.4,459.7) scale(0.9,1)" font-size="15.2" font-weight="normal" text-anchor="start" fill="#000" >V</text>
</svg></body></html>
